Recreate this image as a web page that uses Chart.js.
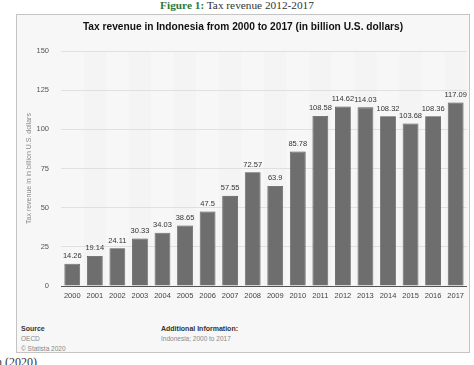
<!DOCTYPE html>
<html>
<head>
<meta charset="utf-8">
<script src="https://cdn.jsdelivr.net/npm/chart.js@4"></script>
<style>
  html, body { margin: 0; padding: 0; background: #fff; }
  body { width: 474px; height: 365px; position: relative; overflow: hidden; font-family: "Liberation Sans", Arial, sans-serif; }
  .caption { position: absolute; left: 0; top: -1px; width: 474px; text-align: center; font-family: "Liberation Serif", serif; font-size: 11.3px; color: #333; }
  .caption b { color: #2f7a3a; }
  .box { position: absolute; left: 16px; top: 14px; width: 454px; height: 339px; background: #f7f7f7; border: 1px solid #c4c4c4; box-sizing: border-box; }
  .title { position: absolute; left: 0; top: 6px; width: 100%; text-align: center; font-size: 10.2px; font-weight: bold; color: #111; }
  .chart { position: absolute; left: 0; top: 0; width: 452px; height: 292px; }
  .foot { position: absolute; font-size: 6.5px; color: #888; line-height: 10px; }
  .foot b { color: #333; font-size: 7px; }
  .bottom { position: absolute; left: -4px; top: 355px; font-family: "Liberation Serif", serif; font-size: 12px; color: #333; }
</style>
</head>
<body>
<div class="caption"><b>Figure 1:</b> Tax revenue 2012-2017</div>
<div class="box">
  <div class="chart"><canvas id="barChart"></canvas></div>
  <div class="title">Tax revenue in Indonesia from 2000 to 2017 (in billion U.S. dollars)</div>
  <div class="foot" style="left:4px; top:309px;"><b>Source</b><br>OECD<br>© Statista 2020</div>
  <div class="foot" style="left:144px; top:309px;"><b>Additional Information:</b><br>Indonesia; 2000 to 2017</div>
</div>
<div class="bottom">n (2020)</div>
<script>
const years = ['2000', '2001', '2002', '2003', '2004', '2005', '2006', '2007', '2008',
  '2009', '2010', '2011', '2012', '2013', '2014', '2015', '2016', '2017'];
const revenue = [14.26, 19.14, 24.11, 30.33, 34.03, 38.65, 47.5, 57.55, 72.57,
  63.9, 85.78, 108.58, 114.62, 114.03, 108.32, 103.68, 108.36, 117.09];
const yTicks = [0, 25, 50, 75, 100, 125, 150];

// alternating column stripes behind the bars
const stripes = {
  id: 'stripes',
  beforeDraw(chart) {
    const { ctx, chartArea, scales } = chart;
    const step = scales.x.getPixelForValue(1) - scales.x.getPixelForValue(0);
    ctx.save();
    ctx.fillStyle = 'rgba(0,0,0,0.012)';
    years.forEach((y, i) => {
      if (i % 2 === 1) {
        const cx = scales.x.getPixelForValue(i);
        ctx.fillRect(cx - step / 2, chartArea.top, step, chartArea.bottom - chartArea.top);
      }
    });
    ctx.restore();
  }
};

// value labels above each bar
const valueLabels = {
  id: 'valueLabels',
  afterDatasetsDraw(chart) {
    const { ctx } = chart;
    const meta = chart.getDatasetMeta(0);
    ctx.save();
    ctx.font = '7.5px "Liberation Sans", Arial, sans-serif';
    ctx.fillStyle = '#333';
    ctx.textAlign = 'center';
    ctx.textBaseline = 'bottom';
    meta.data.forEach((bar, i) => {
      ctx.fillText(String(revenue[i]), bar.x, bar.y - 4);
    });
    ctx.restore();
  }
};

const ctx = document.getElementById('barChart').getContext('2d');
new Chart(ctx, {
  type: 'bar',
  data: {
    labels: years,
    datasets: [{
      data: revenue,
      backgroundColor: '#6e6e6e',
      borderColor: '#555',
      borderWidth: 0.8,
      barPercentage: 0.7,
      categoryPercentage: 1.0
    }]
  },
  options: {
    responsive: true,
    maintainAspectRatio: false,
    animation: false,
    layout: { padding: { top: 36, right: 0, left: 8, bottom: 2 } },
    scales: {
      x: {
        grid: { display: false, drawTicks: false },
        border: { display: true, color: '#555', width: 1 },
        ticks: { font: { size: 7.5 }, color: '#444', maxRotation: 0, autoSkip: false, padding: 5 }
      },
      y: {
        min: 0,
        max: 150,
        afterBuildTicks(axis) { axis.ticks = yTicks.map(v => ({ value: v })); },
        afterFit(axis) { axis.width = 36; },
        grid: { color: '#e0e0e0', drawTicks: false },
        border: { display: false },
        ticks: { font: { size: 7.5 }, color: '#555', padding: 12 },
        title: { display: true, text: 'Tax revenue in in billion U.S. dollars', font: { size: 7 }, color: '#888', padding: 0 }
      }
    },
    plugins: { legend: { display: false }, tooltip: { enabled: false } }
  },
  plugins: [stripes, valueLabels]
});
</script>
</body>
</html>
